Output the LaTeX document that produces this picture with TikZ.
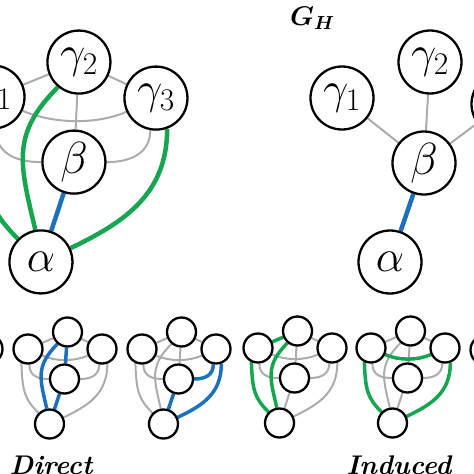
\documentclass[tikz,border=0pt]{standalone}
\usepackage{fix-cm}
\usepackage{bm}
\definecolor{eg}{RGB}{172,172,172}
\definecolor{hg}{RGB}{22,166,80}
\definecolor{hb}{RGB}{28,112,192}
\pgfdeclarelayer{edges}
\pgfsetlayers{edges,main}
% edge shapes (gamma1=1, gamma2=2, gamma3=3, beta=b, alpha=a)
\newcommand\eOT[2]{\draw[#2] (#1-1) -- (#1-2);}
\newcommand\eTTh[2]{\draw[#2] (#1-2) -- (#1-3);}
\newcommand\eOTh[2]{\draw[#2] (#1-1.-25) .. controls +(14,6) and +(-14,6) .. (#1-3.205);}
\newcommand\eTB[2]{\draw[#2] (#1-2) -- (#1-b);}
\newcommand\eOB[2]{\draw[#2] (#1-1.-85) .. controls +(0,12) and +(-10,0) .. (#1-b.west);}
\newcommand\eBTh[2]{\draw[#2] (#1-b.east) .. controls +(12,0) and +(0,10) .. (#1-3.-100);}
\newcommand\eOA[2]{\draw[#2] (#1-1.-115) .. controls +(1,28) and +(-14,-14) .. (#1-a.135);}
\newcommand\eThA[2]{\draw[#2] (#1-3.-70) .. controls +(0,30) and +(25,-12) .. (#1-a.25);}
\newcommand\eTA[2]{\draw[#2] (#1-2.230) .. controls +(-22,22) and +(-7,-30) .. (#1-a.100);}
\newcommand\eBA[2]{\draw[#2] (#1-b) -- (#1-a);}
\newcommand\grayedges[1]{\eOT{#1}{ge}\eTTh{#1}{ge}\eOTh{#1}{ge}\eTB{#1}{ge}\eOB{#1}{ge}%
  \eBTh{#1}{ge}\eOA{#1}{ge}\eThA{#1}{ge}\eTA{#1}{ge}\eBA{#1}{ge}}
\newcommand\smallnodes[1]{%
  \node[snode] (#1-1) at (0,0) {};
  \node[snode] (#1-2) at (39.5,-17) {};
  \node[snode] (#1-3) at (74,0) {};
  \node[snode] (#1-b) at (36.5,30) {};
  \node[snode] (#1-a) at (21.5,75) {};}
\begin{document}
\begin{tikzpicture}[x=1pt,y=-1pt,
  mnode/.style={circle,draw,fill=white,line width=2.3pt,minimum size=63pt,inner sep=0pt,
    font=\fontsize{45}{47}\selectfont},
  snode/.style={circle,draw,fill=white,line width=2.3pt,minimum size=29pt,inner sep=0pt},
  ge/.style={draw=eg,line width=2pt},
  mg/.style={draw=hg,line width=4.5pt},
  mb/.style={draw=hb,line width=4.5pt},
  sg/.style={draw=hg,line width=3.5pt},
  sb/.style={draw=hb,line width=3.5pt},
  lab/.style={inner sep=0pt,anchor=base,font=\fontsize{27}{29}\selectfont\bfseries\itshape}]
\useasboundingbox (0,0) rectangle (474,474);

% ---------- main left graph ----------
\begin{scope}[shift={(-7,97)},scale=2.17]
  \node[mnode] (L-1) at (0,0) {$\gamma_1$};
  \node[mnode] (L-2) at (39.6,-16.1) {$\gamma_2$};
  \node[mnode] (L-3) at (75.1,0.5) {$\gamma_3$};
  \node[mnode] (L-b) at (37.3,30) {$\beta$};
  \node[mnode] (L-a) at (22.1,76) {$\alpha$};
  \begin{pgfonlayer}{edges}
    \grayedges{L}
    \eTA{L}{mg}\eThA{L}{mg}\eOA{L}{mg}\eBA{L}{mb}
  \end{pgfonlayer}
\end{scope}

% ---------- main right graph G_H ----------
\node[inner sep=0pt,anchor=base west,font=\fontsize{27}{29}\selectfont] (gh) at (290,25) {$\bm{G}_{\bm{H}}$};
\node[mnode] (R-1) at (342,98) {$\gamma_1$};
\node[mnode] (R-2) at (430,62) {$\gamma_2$};
\node[mnode] (R-3) at (503,104) {$\gamma_3$};
\node[mnode] (R-b) at (424,163) {$\beta$};
\node[mnode] (R-a) at (390,262) {$\alpha$};
\begin{pgfonlayer}{edges}
  \draw[ge] (R-1) -- (R-b);
  \draw[ge] (R-2) -- (R-b);
  \draw[ge] (R-3) -- (R-b);
  \draw[mb] (R-b) -- (R-a);
\end{pgfonlayer}

% ---------- bottom row ----------
\node[snode] (pl) at (-12,349) {};
\node[snode] (pr) at (485,350) {};
\begin{scope}[shift={(28,349)}]
  \smallnodes{A}
  \begin{pgfonlayer}{edges}
    \grayedges{A}
    \eTB{A}{sb}\eBA{A}{sb}\eTA{A}{sb}
  \end{pgfonlayer}
\end{scope}
\begin{scope}[shift={(142,349)}]
  \smallnodes{B}
  \begin{pgfonlayer}{edges}
    \grayedges{B}
    \eBTh{B}{sb}\eThA{B}{sb}\eBA{B}{sb}
  \end{pgfonlayer}
\end{scope}
\begin{scope}[shift={(258,348)}]
  \smallnodes{C}
  \begin{pgfonlayer}{edges}
    \grayedges{C}
    \eOT{C}{sg}\eTA{C}{sg}\eOA{C}{sg}
  \end{pgfonlayer}
\end{scope}
\begin{scope}[shift={(371,348)}]
  \smallnodes{D}
  \begin{pgfonlayer}{edges}
    \grayedges{D}
    \eOTh{D}{sg}\eOA{D}{sg}\eThA{D}{sg}
  \end{pgfonlayer}
\end{scope}

\node[lab] (direct) at (51,474) {Direct};
\node[lab] (induced) at (399,474) {Induced};
\end{tikzpicture}
\end{document}
